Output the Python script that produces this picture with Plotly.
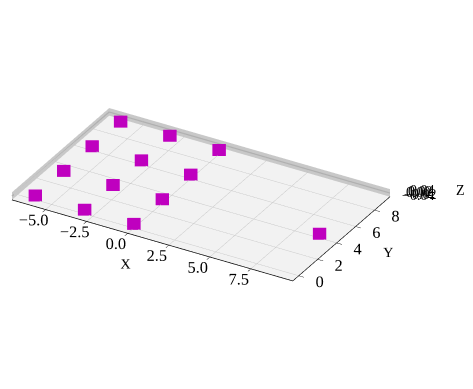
import plotly.graph_objects as go

# data
x_vals = [-6, -3, 0, -6, -3, 0, -6, -3, 0, -6, -3, 0, 9]
y_vals = [0, 0, 0, 3, 3, 3, 6, 6, 6, 9, 9, 9, 4]
z_vals = [0] * 13

x_ticks = [-5, -2.5, 0, 2.5, 5, 7.5]
x_ticktext = ["\u22125.0", "\u22122.5", "0.0", "2.5", "5.0", "7.5"]
y_ticks = [0, 2, 4, 6, 8]
y_ticktext = ["0", "2", "4", "6", "8"]
z_ticks = [-0.04, -0.02, 0.0, 0.02, 0.04]
z_ticktext = ["\u22120.04", "\u22120.02", "0.00", "0.02", "0.04"]

x_range = [-7.05, 10.05]
y_range = [-0.63, 9.63]
z_range = [-0.06, 0.06]

FONT = "Liberation Serif"
MAG = "#bf00bf"

fig = go.Figure()

fig.add_trace(go.Scatter3d(
    x=[x_range[0], x_range[0], x_range[1]],
    y=[y_range[0], y_range[1], y_range[1]],
    z=[0, 0, 0],
    mode="lines", line=dict(color="#b0b0b0", width=3),
    hoverinfo="skip", showlegend=False))

fig.add_trace(go.Scatter3d(
    x=x_vals, y=y_vals, z=z_vals, mode="markers",
    marker=dict(symbol="square", size=7, color=MAG, line=dict(width=0)),
    showlegend=False))

ax_common = dict(
    showbackground=True, backgroundcolor="#c8c8c8",
    gridcolor="#c4c4c4", gridwidth=1,
    showline=True, linecolor="black", linewidth=1.5,
    ticks="outside", tickcolor="black", ticklen=6, tickangle=0,
    zeroline=False, showspikes=False,
    tickfont=dict(family=FONT, size=14, color="black"),
)

# z tick labels drawn at the back-right corner (where matplotlib puts them)
z_annots = [dict(x=x_range[1], y=y_range[1], z=zv, text=zt, showarrow=False,
                 xanchor="left", xshift=10 + 2 * i, yshift=0,
                 font=dict(family=FONT, size=14, color="black"))
            for i, (zv, zt) in enumerate(zip(z_ticks, z_ticktext))]
z_annots.append(dict(x=x_range[1], y=y_range[1], z=0, text="Z", showarrow=False,
                     xanchor="left", xshift=64, yshift=2,
                     font=dict(family=FONT, size=14, color="black")))

sc = dict(
    domain=dict(x=[0.0, 0.85], y=[0.0, 1.0]),
    xaxis=dict(ax_common, range=x_range, tickvals=x_ticks, ticktext=x_ticktext,
               title=dict(text="X", font=dict(family=FONT, size=14, color="black"))),
    yaxis=dict(ax_common, range=y_range, tickvals=y_ticks, ticktext=y_ticktext,
               title=dict(text="Y", font=dict(family=FONT, size=14, color="black"))),
    zaxis=dict(ax_common, range=z_range, tickvals=z_ticks,
               showgrid=False, showticklabels=False, showline=False, ticks="",
               showbackground=True, backgroundcolor="#f2f2f2",
               title=dict(text="")),
    aspectmode="manual",
    aspectratio=dict(x=1.667, y=1.0, z=0.045),
    annotations=z_annots,
)
k = 2.6
sc["camera"] = dict(eye=dict(x=0.433 * k, y=-0.75 * k, z=0.5 * k),
                    up=dict(x=0, y=0, z=1), center=dict(x=0, y=0, z=0),
                    projection=dict(type="orthographic"))

fig.update_layout(
    template="none",
    width=473, height=389,
    margin=dict(l=0, r=0, t=0, b=0),
    paper_bgcolor="white",
    font=dict(family=FONT, size=14, color="black"),
    scene=sc,
    showlegend=False,
)

fig.write_html("out.html")
